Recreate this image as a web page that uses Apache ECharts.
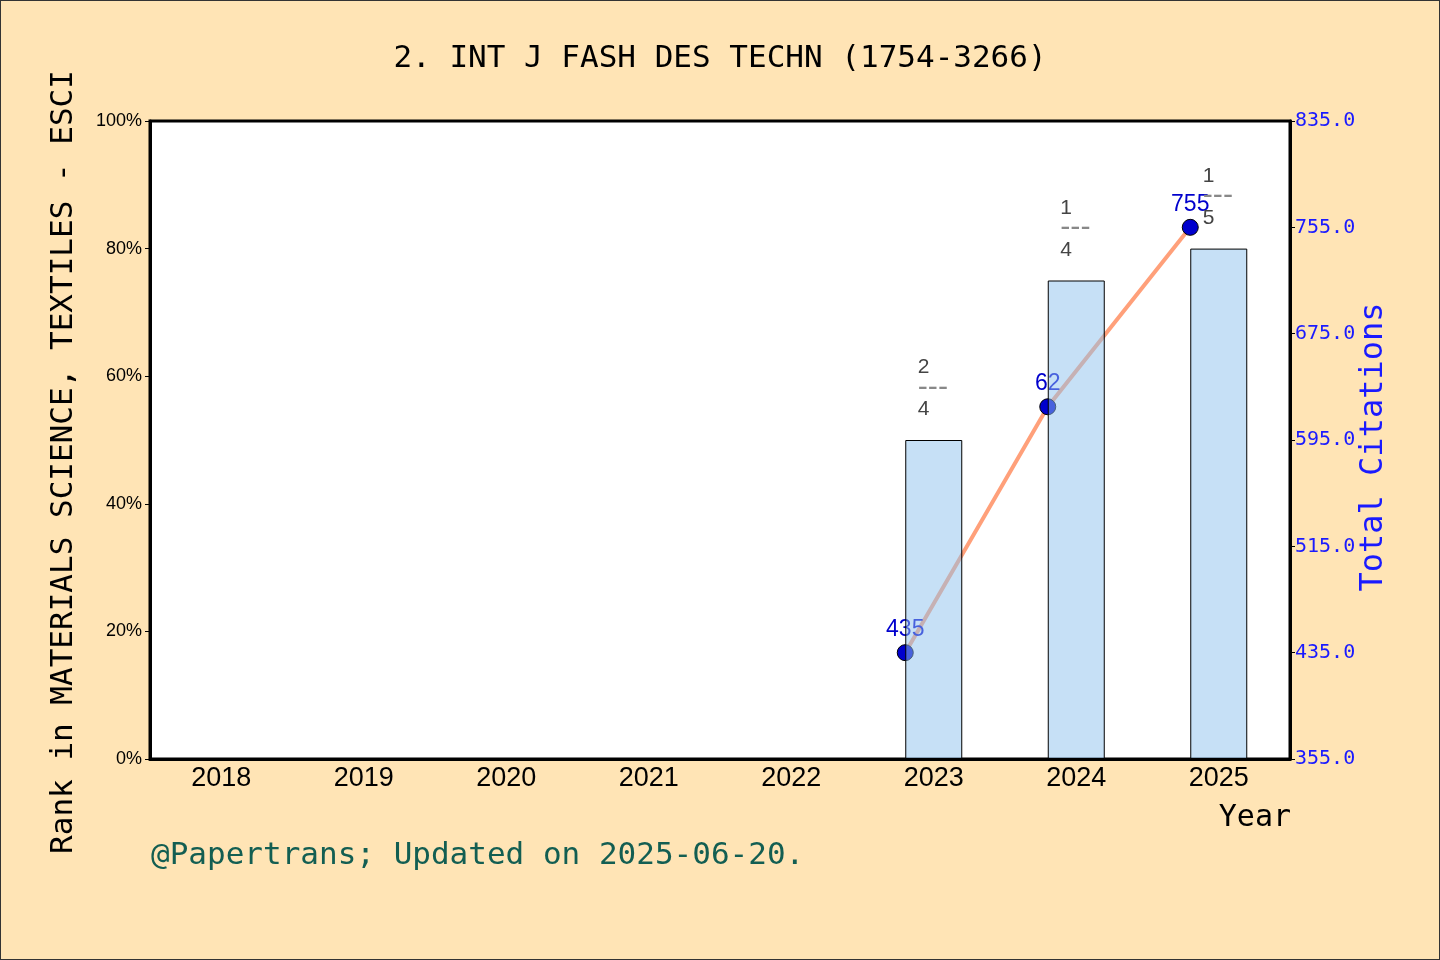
<!DOCTYPE html>
<html>
<head>
<meta charset="utf-8">
<script src="https://cdn.jsdelivr.net/npm/echarts@6/dist/echarts.min.js"></script>
<style>
html,body{margin:0;padding:0;background:#ffe4b5;}
#main{width:1440px;height:960px;box-sizing:border-box;border:1px solid #333;}
</style>
</head>
<body>
<div id="main"></div>
<script>
// data
var years = ['2018','2019','2020','2021','2022','2023','2024','2025'];
var barValues = [null,null,null,null,null,50,75,80];   // rank percent
var rankPos = [null,null,null,null,null,2,1,1];
var rankTotal = [null,null,null,null,null,4,4,5];
var lineYears = ['2023','2024','2025'];
var citations = [435,620,755];
var citeLabels = ['435','62','755'];
var citeTicks = [355,835,80]; // min, max, step

var mono = 'DejaVu Sans Mono';
var sans = 'Liberation Sans';
var barFrac = 0.4;

var mychart = echarts.init(document.getElementById('main'), null, {renderer:'canvas'});

function bardata()
{
	var out = [];
	for(var i=0;i<years.length;i++)
	{
		if(barValues[i]==null) { out.push(null); continue; }
		out.push({value: barValues[i], rank: rankPos[i], total: rankTotal[i]});
	}
	return out;
}
function linedata()
{
	var out = [];
	for(var i=0;i<lineYears.length;i++)
	{
		// points sit on the left edge of each bar
		out.push([years.indexOf(lineYears[i]) - barFrac/2, citations[i]]);
	}
	return out;
}

var option = {
	backgroundColor: '#ffe4b5',
	animation: false,
	title: {
		text: '2. INT J FASH DES TECHN (1754-3266)',
		left: 'center',
		top: 37,
		textStyle: {fontFamily: mono, fontSize: 31, fontWeight: 'normal', color: '#000'}
	},
	grid: {
		left: 149, right: 149, top: 120, bottom: 200,
		show: true, backgroundColor: '#fff', borderColor: '#000', borderWidth: 3
	},
	xAxis: [{
		type: 'category',
		data: years,
		boundaryGap: true,
		axisLine: {lineStyle: {color: '#000', width: 3}},
		axisTick: {inside: true, length: 5, lineStyle: {color: '#000'}},
		axisLabel: {fontFamily: sans, fontSize: 27, color: '#000', margin: 6}
	},{
		type: 'value',
		min: -0.5, max: years.length - 0.5,
		show: false
	}],
	yAxis: [{
		type: 'value',
		min: 0, max: 100, interval: 20,
		axisLine: {show: true, onZero: false, lineStyle: {color: '#000', width: 3}},
		axisTick: {show: true, length: 5, lineStyle: {color: '#000'}},
		splitLine: {show: false},
		axisLabel: {formatter: '{value}%', fontFamily: sans, fontSize: 18, color: '#000', margin: 8}
	},{
		type: 'value',
		position: 'right',
		min: citeTicks[0], max: citeTicks[1], interval: citeTicks[2],
		axisLine: {show: true, onZero: false, lineStyle: {color: '#000', width: 3}},
		axisTick: {show: true, length: 5, lineStyle: {color: '#000'}},
		splitLine: {show: false},
		axisLabel: {
			formatter: function(v){ return v.toFixed(1); },
			fontFamily: mono, fontSize: 20, color: '#1a1aff', margin: 5
		}
	}],
	graphic: [{
		type: 'text', x: 63, y: 461, rotation: Math.PI/2,
		style: {text: 'Rank in MATERIALS SCIENCE, TEXTILES - ESCI', fontFamily: mono, fontSize: 31,
			fill: '#000', align: 'center', verticalAlign: 'middle'}
	},{
		type: 'text', x: 1373, y: 446, rotation: Math.PI/2,
		style: {text: 'Total Citations', fontFamily: mono, fontSize: 32,
			fill: '#1a1aff', align: 'center', verticalAlign: 'middle'}
	},{
		type: 'text', x: 1290, y: 817,
		style: {text: 'Year', fontFamily: mono, fontSize: 30, fill: '#000', align: 'right', verticalAlign: 'middle'}
	},{
		type: 'text', x: 150, y: 855,
		style: {text: '@Papertrans; Updated on 2025-06-20.', fontFamily: mono, fontSize: 31,
			fill: '#135e52', align: 'left', verticalAlign: 'middle'}
	}],
	series: [{
		name: 'citations',
		type: 'line',
		xAxisIndex: 1,
		yAxisIndex: 1,
		z: 2,
		data: linedata(),
		symbol: 'circle',
		symbolSize: 16,
		lineStyle: {color: '#ffa07a', width: 4},
		itemStyle: {color: '#0000cd', borderColor: '#000', borderWidth: 1},
		label: {
			show: true, position: 'top', distance: 3,
			formatter: function(p){ return citeLabels[p.dataIndex]; },
			fontFamily: sans, fontSize: 23, color: '#0000cd'
		}
	},{
		name: 'rank',
		type: 'bar',
		xAxisIndex: 0,
		yAxisIndex: 0,
		z: 3,
		barWidth: (barFrac*100) + '%',
		data: bardata(),
		itemStyle: {color: 'rgba(141,193,237,0.5)', borderColor: '#000', borderWidth: 1},
		label: {
			show: true, position: 'top', distance: 20,
			align: 'left', offset: [-16, 0],
			formatter: function(p){
				if(!p.data) return '';
				return '{d|' + p.data.rank + '}\n{l|---}\n{d|' + p.data.total + '}';
			},
			rich: {
				d: {fontFamily: sans, fontSize: 21, color: '#444', lineHeight: 21},
				l: {fontFamily: 'DejaVu Sans', fontSize: 28, color: '#888', lineHeight: 21}
			}
		}
	}]
};
mychart.setOption(option);
</script>
</body>
</html>
